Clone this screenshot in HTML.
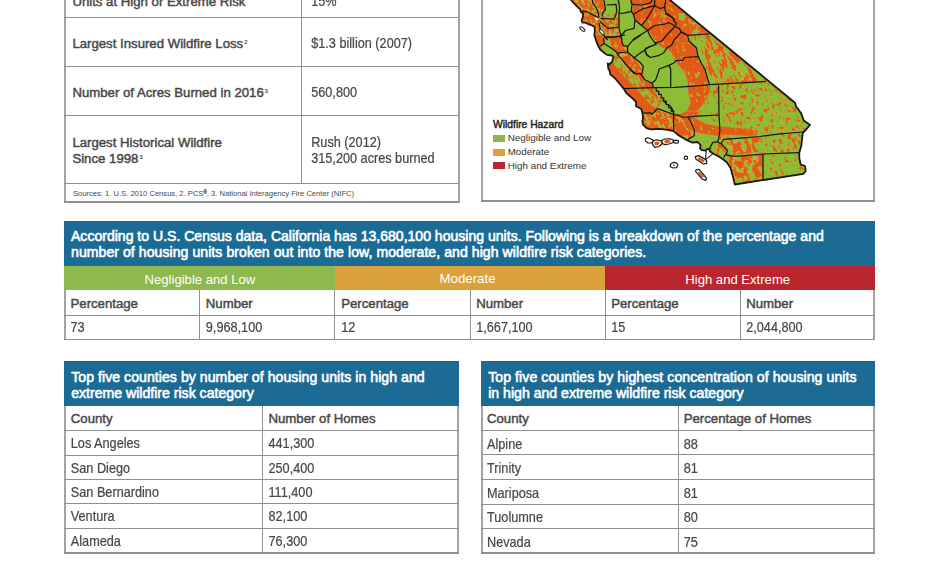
<!DOCTYPE html>
<html><head><meta charset="utf-8"><title>California Wildfire Risk</title>
<style>
html,body{margin:0;padding:0;background:#fff;}
body{width:940px;height:564px;position:relative;overflow:hidden;font-family:"Liberation Sans", sans-serif;}
.t{position:absolute;white-space:nowrap;line-height:1;}
.t sup{font-size:5.5px;vertical-align:0;position:relative;top:-0.72em;margin-left:1px;-webkit-text-stroke:0.2px currentColor;}
.r{position:absolute;}
svg{position:absolute;}
</style></head><body>
<div class="r" style="left:64px;top:0px;width:2px;height:203px;background:#a3a3a3"></div>
<div class="r" style="left:458px;top:0px;width:2px;height:203px;background:#a3a3a3"></div>
<div class="r" style="left:301px;top:0px;width:1px;height:183px;background:#8f8f8f"></div>
<div class="r" style="left:64px;top:17px;width:395px;height:1px;background:#8f8f8f"></div>
<div class="r" style="left:64px;top:66px;width:395px;height:1px;background:#8f8f8f"></div>
<div class="r" style="left:64px;top:115px;width:395px;height:1px;background:#8f8f8f"></div>
<div class="r" style="left:64px;top:183px;width:395px;height:1px;background:#8f8f8f"></div>
<div class="r" style="left:64px;top:201px;width:395px;height:2px;background:#8f8f8f"></div>
<div class="t" style="left:72.40px;top:-4.57px;font-size:13.2px;-webkit-text-stroke:0.45px #474747;color:#474747;">Units at High or Extreme Risk</div>
<div class="t" style="left:311.20px;top:-4.35px;font-size:12.7px;transform:scaleY(1.1);transform-origin:0 10.75px;-webkit-text-stroke:0.2px #474747;color:#474747;">15%</div>
<div class="t" style="left:72.40px;top:36.93px;font-size:13.2px;-webkit-text-stroke:0.45px #474747;color:#474747;">Largest Insured Wildfire Loss<sup>2</sup></div>
<div class="t" style="left:311.20px;top:37.65px;font-size:12.7px;transform:scaleY(1.1);transform-origin:0 10.75px;-webkit-text-stroke:0.2px #474747;color:#474747;">$1.3 billion (2007)</div>
<div class="t" style="left:72.40px;top:85.73px;font-size:13.2px;-webkit-text-stroke:0.45px #474747;color:#474747;">Number of Acres Burned in 2016<sup>3</sup></div>
<div class="t" style="left:311.20px;top:87.15px;font-size:12.7px;transform:scaleY(1.1);transform-origin:0 10.75px;-webkit-text-stroke:0.2px #474747;color:#474747;">560,800</div>
<div class="t" style="left:72.40px;top:136.13px;font-size:13.2px;-webkit-text-stroke:0.45px #474747;color:#474747;">Largest Historical Wildfire</div>
<div class="t" style="left:72.40px;top:151.73px;font-size:13.2px;-webkit-text-stroke:0.45px #474747;color:#474747;">Since 1998<sup>3</sup></div>
<div class="t" style="left:311.20px;top:137.15px;font-size:12.7px;transform:scaleY(1.1);transform-origin:0 10.75px;-webkit-text-stroke:0.2px #474747;color:#474747;">Rush (2012)</div>
<div class="t" style="left:311.20px;top:153.35px;font-size:12.7px;transform:scaleY(1.1);transform-origin:0 10.75px;-webkit-text-stroke:0.2px #474747;color:#474747;">315,200 acres burned</div>
<div class="t" style="left:73.00px;top:189.57px;font-size:7.6px;color:#474747;">Sources: 1. U.S. 2010 Census, 2. PCS<sup style="font-size:4.5px;top:-0.45em;margin-left:0">®</sup>, 3. National Interagency Fire Center (NIFC)</div>
<div class="r" style="left:481px;top:0px;width:2px;height:202px;background:#a3a3a3"></div>
<div class="r" style="left:873px;top:0px;width:2px;height:202px;background:#a3a3a3"></div>
<div class="r" style="left:481px;top:200px;width:394px;height:2px;background:#8f8f8f"></div>
<svg style="left:0;top:0" width="940" height="205" viewBox="0 0 940 205">
<defs><clipPath id="ca"><polygon points="570.5,-3.0 671.0,-3.0 670.0,0.0 795.0,102.7 796.0,106.3 801.2,113.4 803.8,120.5 810.0,124.9 805.6,130.2 802.8,133.0 802.1,138.4 801.4,145.5 799.3,152.6 799.3,158.2 800.7,164.6 805.0,166.0 805.7,171.0 803.5,173.8 734.8,184.5 734.0,181.0 732.5,175.0 730.5,168.0 727.0,162.5 723.3,159.5 718.3,156.2 713.3,153.8 709.8,151.3 709.0,148.8 707.0,149.1 705.5,150.6 702.0,150.2 699.9,148.4 700.6,145.2 697.7,142.0 692.5,142.6 687.4,140.5 682.3,137.4 678.0,134.9 673.7,131.1 667.8,129.8 659.3,128.9 650.8,129.4 646.5,128.1 643.1,124.7 642.3,121.3 643.1,117.0 642.3,112.8 641.3,109.0 636.0,106.3 636.0,101.9 633.3,99.2 626.3,93.0 623.6,88.6 619.2,83.3 614.7,78.0 610.3,74.4 609.4,70.0 608.4,69.0 607.7,63.4 609.0,64.5 612.0,62.0 613.4,57.0 612.0,55.5 607.0,54.9 604.2,52.7 599.9,49.2 597.1,43.5 595.7,39.3 594.3,35.0 594.8,31.2 594.8,27.0 592.0,25.5 588.4,24.1 585.6,22.7 582.4,22.7 581.7,20.6 583.0,16.3 583.0,13.5 581.0,12.0 580.0,9.2 577.0,6.4 573.5,2.8 571.0,0.0"/></clipPath>
<filter id="sp0m" x="-0.1" y="-0.1" width="1.2" height="1.2" color-interpolation-filters="sRGB"><feTurbulence type="fractalNoise" baseFrequency="0.35 0.18" numOctaves="4" seed="3"/><feColorMatrix type="matrix" values="0 0 0 0 0.84 0 0 0 0 0.66 0 0 0 0 0.2 1 0 0 0 0.1569"/><feComponentTransfer><feFuncA type="discrete" tableValues="0 1"/></feComponentTransfer><feComposite in2="SourceGraphic" operator="in"/><feGaussianBlur stdDeviation="0.35"/></filter>
<filter id="sp0h" x="-0.1" y="-0.1" width="1.2" height="1.2" color-interpolation-filters="sRGB"><feTurbulence type="fractalNoise" baseFrequency="0.35 0.18" numOctaves="4" seed="3"/><feColorMatrix type="matrix" values="0 0 0 0 0.886 0 0 0 0 0.353 0 0 0 0 0.09 1 0 0 0 0.0451"/><feComponentTransfer><feFuncA type="discrete" tableValues="0 1"/></feComponentTransfer><feComposite in2="SourceGraphic" operator="in"/><feGaussianBlur stdDeviation="0.35"/></filter>
<filter id="sp1m" x="-0.1" y="-0.1" width="1.2" height="1.2" color-interpolation-filters="sRGB"><feTurbulence type="fractalNoise" baseFrequency="0.35 0.18" numOctaves="4" seed="4"/><feColorMatrix type="matrix" values="0 0 0 0 0.84 0 0 0 0 0.66 0 0 0 0 0.2 1 0 0 0 -0.0236"/><feComponentTransfer><feFuncA type="discrete" tableValues="0 1"/></feComponentTransfer><feComposite in2="SourceGraphic" operator="in"/><feGaussianBlur stdDeviation="0.35"/></filter>
<filter id="sp1h" x="-0.1" y="-0.1" width="1.2" height="1.2" color-interpolation-filters="sRGB"><feTurbulence type="fractalNoise" baseFrequency="0.35 0.18" numOctaves="4" seed="4"/><feColorMatrix type="matrix" values="0 0 0 0 0.886 0 0 0 0 0.353 0 0 0 0 0.09 1 0 0 0 -0.0614"/><feComponentTransfer><feFuncA type="discrete" tableValues="0 1"/></feComponentTransfer><feComposite in2="SourceGraphic" operator="in"/><feGaussianBlur stdDeviation="0.35"/></filter>
<filter id="sp2m" x="-0.1" y="-0.1" width="1.2" height="1.2" color-interpolation-filters="sRGB"><feTurbulence type="fractalNoise" baseFrequency="0.35 0.18" numOctaves="4" seed="5"/><feColorMatrix type="matrix" values="0 0 0 0 0.84 0 0 0 0 0.66 0 0 0 0 0.2 1 0 0 0 0.0614"/><feComponentTransfer><feFuncA type="discrete" tableValues="0 1"/></feComponentTransfer><feComposite in2="SourceGraphic" operator="in"/><feGaussianBlur stdDeviation="0.35"/></filter>
<filter id="sp2h" x="-0.1" y="-0.1" width="1.2" height="1.2" color-interpolation-filters="sRGB"><feTurbulence type="fractalNoise" baseFrequency="0.35 0.18" numOctaves="4" seed="5"/><feColorMatrix type="matrix" values="0 0 0 0 0.886 0 0 0 0 0.353 0 0 0 0 0.09 1 0 0 0 0.0000"/><feComponentTransfer><feFuncA type="discrete" tableValues="0 1"/></feComponentTransfer><feComposite in2="SourceGraphic" operator="in"/><feGaussianBlur stdDeviation="0.35"/></filter>
<filter id="sp3m" x="-0.1" y="-0.1" width="1.2" height="1.2" color-interpolation-filters="sRGB"><feTurbulence type="fractalNoise" baseFrequency="0.35 0.18" numOctaves="4" seed="6"/><feColorMatrix type="matrix" values="0 0 0 0 0.84 0 0 0 0 0.66 0 0 0 0 0.2 1 0 0 0 0.2201"/><feComponentTransfer><feFuncA type="discrete" tableValues="0 1"/></feComponentTransfer><feComposite in2="SourceGraphic" operator="in"/><feGaussianBlur stdDeviation="0.35"/></filter>
<filter id="sp3h" x="-0.1" y="-0.1" width="1.2" height="1.2" color-interpolation-filters="sRGB"><feTurbulence type="fractalNoise" baseFrequency="0.35 0.18" numOctaves="4" seed="6"/><feColorMatrix type="matrix" values="0 0 0 0 0.886 0 0 0 0 0.353 0 0 0 0 0.09 1 0 0 0 0.1499"/><feComponentTransfer><feFuncA type="discrete" tableValues="0 1"/></feComponentTransfer><feComposite in2="SourceGraphic" operator="in"/><feGaussianBlur stdDeviation="0.35"/></filter>
<filter id="sp4m" x="-0.1" y="-0.1" width="1.2" height="1.2" color-interpolation-filters="sRGB"><feTurbulence type="fractalNoise" baseFrequency="0.35 0.18" numOctaves="4" seed="7"/><feColorMatrix type="matrix" values="0 0 0 0 0.84 0 0 0 0 0.66 0 0 0 0 0.2 1 0 0 0 0.2201"/><feComponentTransfer><feFuncA type="discrete" tableValues="0 1"/></feComponentTransfer><feComposite in2="SourceGraphic" operator="in"/><feGaussianBlur stdDeviation="0.35"/></filter>
<filter id="sp4h" x="-0.1" y="-0.1" width="1.2" height="1.2" color-interpolation-filters="sRGB"><feTurbulence type="fractalNoise" baseFrequency="0.35 0.18" numOctaves="4" seed="7"/><feColorMatrix type="matrix" values="0 0 0 0 0.886 0 0 0 0 0.353 0 0 0 0 0.09 1 0 0 0 0.1213"/><feComponentTransfer><feFuncA type="discrete" tableValues="0 1"/></feComponentTransfer><feComposite in2="SourceGraphic" operator="in"/><feGaussianBlur stdDeviation="0.35"/></filter>
<filter id="sp5m" x="-0.1" y="-0.1" width="1.2" height="1.2" color-interpolation-filters="sRGB"><feTurbulence type="fractalNoise" baseFrequency="0.35 0.18" numOctaves="4" seed="8"/><feColorMatrix type="matrix" values="0 0 0 0 0.84 0 0 0 0 0.66 0 0 0 0 0.2 1 0 0 0 0.2201"/><feComponentTransfer><feFuncA type="discrete" tableValues="0 1"/></feComponentTransfer><feComposite in2="SourceGraphic" operator="in"/><feGaussianBlur stdDeviation="0.35"/></filter>
<filter id="sp5h" x="-0.1" y="-0.1" width="1.2" height="1.2" color-interpolation-filters="sRGB"><feTurbulence type="fractalNoise" baseFrequency="0.35 0.18" numOctaves="4" seed="8"/><feColorMatrix type="matrix" values="0 0 0 0 0.886 0 0 0 0 0.353 0 0 0 0 0.09 1 0 0 0 0.1644"/><feComponentTransfer><feFuncA type="discrete" tableValues="0 1"/></feComponentTransfer><feComposite in2="SourceGraphic" operator="in"/><feGaussianBlur stdDeviation="0.35"/></filter>
<filter id="sp6m" x="-0.1" y="-0.1" width="1.2" height="1.2" color-interpolation-filters="sRGB"><feTurbulence type="fractalNoise" baseFrequency="0.3 0.07" numOctaves="4" seed="9"/><feColorMatrix type="matrix" values="0 0 0 0 0.84 0 0 0 0 0.66 0 0 0 0 0.2 1 0 0 0 0.0177"/><feComponentTransfer><feFuncA type="discrete" tableValues="0 1"/></feComponentTransfer><feComposite in2="SourceGraphic" operator="in"/><feGaussianBlur stdDeviation="0.35"/></filter>
<filter id="sp6h" x="-0.1" y="-0.1" width="1.2" height="1.2" color-interpolation-filters="sRGB"><feTurbulence type="fractalNoise" baseFrequency="0.3 0.07" numOctaves="4" seed="9"/><feColorMatrix type="matrix" values="0 0 0 0 0.886 0 0 0 0 0.353 0 0 0 0 0.09 1 0 0 0 -0.0296"/><feComponentTransfer><feFuncA type="discrete" tableValues="0 1"/></feComponentTransfer><feComposite in2="SourceGraphic" operator="in"/><feGaussianBlur stdDeviation="0.35"/></filter>
<filter id="sp7m" x="-0.1" y="-0.1" width="1.2" height="1.2" color-interpolation-filters="sRGB"><feTurbulence type="fractalNoise" baseFrequency="0.3 0.07" numOctaves="4" seed="10"/><feColorMatrix type="matrix" values="0 0 0 0 0.84 0 0 0 0 0.66 0 0 0 0 0.2 1 0 0 0 -0.1423"/><feComponentTransfer><feFuncA type="discrete" tableValues="0 1"/></feComponentTransfer><feComposite in2="SourceGraphic" operator="in"/><feGaussianBlur stdDeviation="0.35"/></filter>
<filter id="sp7h" x="-0.1" y="-0.1" width="1.2" height="1.2" color-interpolation-filters="sRGB"><feTurbulence type="fractalNoise" baseFrequency="0.3 0.07" numOctaves="4" seed="10"/><feColorMatrix type="matrix" values="0 0 0 0 0.886 0 0 0 0 0.353 0 0 0 0 0.09 1 0 0 0 -0.1644"/><feComponentTransfer><feFuncA type="discrete" tableValues="0 1"/></feComponentTransfer><feComposite in2="SourceGraphic" operator="in"/><feGaussianBlur stdDeviation="0.35"/></filter>
<filter id="sp8m" x="-0.1" y="-0.1" width="1.2" height="1.2" color-interpolation-filters="sRGB"><feTurbulence type="fractalNoise" baseFrequency="0.35 0.18" numOctaves="4" seed="11"/><feColorMatrix type="matrix" values="0 0 0 0 0.84 0 0 0 0 0.66 0 0 0 0 0.2 1 0 0 0 -0.0834"/><feComponentTransfer><feFuncA type="discrete" tableValues="0 1"/></feComponentTransfer><feComposite in2="SourceGraphic" operator="in"/><feGaussianBlur stdDeviation="0.35"/></filter>
<filter id="sp8h" x="-0.1" y="-0.1" width="1.2" height="1.2" color-interpolation-filters="sRGB"><feTurbulence type="fractalNoise" baseFrequency="0.35 0.18" numOctaves="4" seed="11"/><feColorMatrix type="matrix" values="0 0 0 0 0.886 0 0 0 0 0.353 0 0 0 0 0.09 1 0 0 0 -0.1116"/><feComponentTransfer><feFuncA type="discrete" tableValues="0 1"/></feComponentTransfer><feComposite in2="SourceGraphic" operator="in"/><feGaussianBlur stdDeviation="0.35"/></filter>
<filter id="sp9m" x="-0.1" y="-0.1" width="1.2" height="1.2" color-interpolation-filters="sRGB"><feTurbulence type="fractalNoise" baseFrequency="0.35 0.18" numOctaves="4" seed="12"/><feColorMatrix type="matrix" values="0 0 0 0 0.84 0 0 0 0 0.66 0 0 0 0 0.2 1 0 0 0 -0.1613"/><feComponentTransfer><feFuncA type="discrete" tableValues="0 1"/></feComponentTransfer><feComposite in2="SourceGraphic" operator="in"/><feGaussianBlur stdDeviation="0.35"/></filter>
<filter id="sp9h" x="-0.1" y="-0.1" width="1.2" height="1.2" color-interpolation-filters="sRGB"><feTurbulence type="fractalNoise" baseFrequency="0.35 0.18" numOctaves="4" seed="12"/><feColorMatrix type="matrix" values="0 0 0 0 0.886 0 0 0 0 0.353 0 0 0 0 0.09 1 0 0 0 -0.1819"/><feComponentTransfer><feFuncA type="discrete" tableValues="0 1"/></feComponentTransfer><feComposite in2="SourceGraphic" operator="in"/><feGaussianBlur stdDeviation="0.35"/></filter>
<filter id="sp10m" x="-0.1" y="-0.1" width="1.2" height="1.2" color-interpolation-filters="sRGB"><feTurbulence type="fractalNoise" baseFrequency="0.35 0.18" numOctaves="4" seed="13"/><feColorMatrix type="matrix" values="0 0 0 0 0.84 0 0 0 0 0.66 0 0 0 0 0.2 1 0 0 0 0.2201"/><feComponentTransfer><feFuncA type="discrete" tableValues="0 1"/></feComponentTransfer><feComposite in2="SourceGraphic" operator="in"/><feGaussianBlur stdDeviation="0.35"/></filter>
<filter id="sp10h" x="-0.1" y="-0.1" width="1.2" height="1.2" color-interpolation-filters="sRGB"><feTurbulence type="fractalNoise" baseFrequency="0.35 0.18" numOctaves="4" seed="13"/><feColorMatrix type="matrix" values="0 0 0 0 0.886 0 0 0 0 0.353 0 0 0 0 0.09 1 0 0 0 0.1924"/><feComponentTransfer><feFuncA type="discrete" tableValues="0 1"/></feComponentTransfer><feComposite in2="SourceGraphic" operator="in"/><feGaussianBlur stdDeviation="0.35"/></filter>
<filter id="sp11m" x="-0.1" y="-0.1" width="1.2" height="1.2" color-interpolation-filters="sRGB"><feTurbulence type="fractalNoise" baseFrequency="0.35 0.18" numOctaves="4" seed="14"/><feColorMatrix type="matrix" values="0 0 0 0 0.84 0 0 0 0 0.66 0 0 0 0 0.2 1 0 0 0 0.1164"/><feComponentTransfer><feFuncA type="discrete" tableValues="0 1"/></feComponentTransfer><feComposite in2="SourceGraphic" operator="in"/><feGaussianBlur stdDeviation="0.35"/></filter>
<filter id="sp11h" x="-0.1" y="-0.1" width="1.2" height="1.2" color-interpolation-filters="sRGB"><feTurbulence type="fractalNoise" baseFrequency="0.35 0.18" numOctaves="4" seed="14"/><feColorMatrix type="matrix" values="0 0 0 0 0.886 0 0 0 0 0.353 0 0 0 0 0.09 1 0 0 0 0.0296"/><feComponentTransfer><feFuncA type="discrete" tableValues="0 1"/></feComponentTransfer><feComposite in2="SourceGraphic" operator="in"/><feGaussianBlur stdDeviation="0.35"/></filter>
<filter id="sp12m" x="-0.1" y="-0.1" width="1.2" height="1.2" color-interpolation-filters="sRGB"><feTurbulence type="fractalNoise" baseFrequency="0.35 0.18" numOctaves="4" seed="15"/><feColorMatrix type="matrix" values="0 0 0 0 0.84 0 0 0 0 0.66 0 0 0 0 0.2 1 0 0 0 0.2201"/><feComponentTransfer><feFuncA type="discrete" tableValues="0 1"/></feComponentTransfer><feComposite in2="SourceGraphic" operator="in"/><feGaussianBlur stdDeviation="0.35"/></filter>
<filter id="sp12h" x="-0.1" y="-0.1" width="1.2" height="1.2" color-interpolation-filters="sRGB"><feTurbulence type="fractalNoise" baseFrequency="0.35 0.18" numOctaves="4" seed="15"/><feColorMatrix type="matrix" values="0 0 0 0 0.886 0 0 0 0 0.353 0 0 0 0 0.09 1 0 0 0 0.0789"/><feComponentTransfer><feFuncA type="discrete" tableValues="0 1"/></feComponentTransfer><feComposite in2="SourceGraphic" operator="in"/><feGaussianBlur stdDeviation="0.35"/></filter>
<filter id="sp13m" x="-0.1" y="-0.1" width="1.2" height="1.2" color-interpolation-filters="sRGB"><feTurbulence type="fractalNoise" baseFrequency="0.35 0.18" numOctaves="4" seed="16"/><feColorMatrix type="matrix" values="0 0 0 0 0.84 0 0 0 0 0.66 0 0 0 0 0.2 1 0 0 0 -0.1727"/><feComponentTransfer><feFuncA type="discrete" tableValues="0 1"/></feComponentTransfer><feComposite in2="SourceGraphic" operator="in"/><feGaussianBlur stdDeviation="0.35"/></filter>
<filter id="sp13h" x="-0.1" y="-0.1" width="1.2" height="1.2" color-interpolation-filters="sRGB"><feTurbulence type="fractalNoise" baseFrequency="0.35 0.18" numOctaves="4" seed="16"/><feColorMatrix type="matrix" values="0 0 0 0 0.886 0 0 0 0 0.353 0 0 0 0 0.09 1 0 0 0 -0.1924"/><feComponentTransfer><feFuncA type="discrete" tableValues="0 1"/></feComponentTransfer><feComposite in2="SourceGraphic" operator="in"/><feGaussianBlur stdDeviation="0.35"/></filter>
<filter id="sp14m" x="-0.1" y="-0.1" width="1.2" height="1.2" color-interpolation-filters="sRGB"><feTurbulence type="fractalNoise" baseFrequency="0.2 0.12" numOctaves="4" seed="17"/><feColorMatrix type="matrix" values="0 0 0 0 0.84 0 0 0 0 0.66 0 0 0 0 0.2 1 0 0 0 -0.0029"/><feComponentTransfer><feFuncA type="discrete" tableValues="0 1"/></feComponentTransfer><feComposite in2="SourceGraphic" operator="in"/><feGaussianBlur stdDeviation="0.35"/></filter>
<filter id="sp14h" x="-0.1" y="-0.1" width="1.2" height="1.2" color-interpolation-filters="sRGB"><feTurbulence type="fractalNoise" baseFrequency="0.2 0.12" numOctaves="4" seed="17"/><feColorMatrix type="matrix" values="0 0 0 0 0.886 0 0 0 0 0.353 0 0 0 0 0.09 1 0 0 0 -0.0451"/><feComponentTransfer><feFuncA type="discrete" tableValues="0 1"/></feComponentTransfer><feComposite in2="SourceGraphic" operator="in"/><feGaussianBlur stdDeviation="0.35"/></filter>
<filter id="sp15m" x="-0.1" y="-0.1" width="1.2" height="1.2" color-interpolation-filters="sRGB"><feTurbulence type="fractalNoise" baseFrequency="0.2 0.12" numOctaves="4" seed="18"/><feColorMatrix type="matrix" values="0 0 0 0 0.84 0 0 0 0 0.66 0 0 0 0 0.2 1 0 0 0 0.0388"/><feComponentTransfer><feFuncA type="discrete" tableValues="0 1"/></feComponentTransfer><feComposite in2="SourceGraphic" operator="in"/><feGaussianBlur stdDeviation="0.35"/></filter>
<filter id="sp15h" x="-0.1" y="-0.1" width="1.2" height="1.2" color-interpolation-filters="sRGB"><feTurbulence type="fractalNoise" baseFrequency="0.2 0.12" numOctaves="4" seed="18"/><feColorMatrix type="matrix" values="0 0 0 0 0.886 0 0 0 0 0.353 0 0 0 0 0.09 1 0 0 0 -0.0147"/><feComponentTransfer><feFuncA type="discrete" tableValues="0 1"/></feComponentTransfer><feComposite in2="SourceGraphic" operator="in"/><feGaussianBlur stdDeviation="0.35"/></filter>
<filter id="sp16m" x="-0.1" y="-0.1" width="1.2" height="1.2" color-interpolation-filters="sRGB"><feTurbulence type="fractalNoise" baseFrequency="0.35 0.18" numOctaves="4" seed="19"/><feColorMatrix type="matrix" values="0 0 0 0 0.84 0 0 0 0 0.66 0 0 0 0 0.2 1 0 0 0 -0.0682"/><feComponentTransfer><feFuncA type="discrete" tableValues="0 1"/></feComponentTransfer><feComposite in2="SourceGraphic" operator="in"/><feGaussianBlur stdDeviation="0.35"/></filter>
<filter id="sp16h" x="-0.1" y="-0.1" width="1.2" height="1.2" color-interpolation-filters="sRGB"><feTurbulence type="fractalNoise" baseFrequency="0.35 0.18" numOctaves="4" seed="19"/><feColorMatrix type="matrix" values="0 0 0 0 0.886 0 0 0 0 0.353 0 0 0 0 0.09 1 0 0 0 -0.0985"/><feComponentTransfer><feFuncA type="discrete" tableValues="0 1"/></feComponentTransfer><feComposite in2="SourceGraphic" operator="in"/><feGaussianBlur stdDeviation="0.35"/></filter>
<filter id="sp17m" x="-0.1" y="-0.1" width="1.2" height="1.2" color-interpolation-filters="sRGB"><feTurbulence type="fractalNoise" baseFrequency="0.2 0.12" numOctaves="4" seed="20"/><feColorMatrix type="matrix" values="0 0 0 0 0.84 0 0 0 0 0.66 0 0 0 0 0.2 1 0 0 0 0.0710"/><feComponentTransfer><feFuncA type="discrete" tableValues="0 1"/></feComponentTransfer><feComposite in2="SourceGraphic" operator="in"/><feGaussianBlur stdDeviation="0.35"/></filter>
<filter id="sp17h" x="-0.1" y="-0.1" width="1.2" height="1.2" color-interpolation-filters="sRGB"><feTurbulence type="fractalNoise" baseFrequency="0.2 0.12" numOctaves="4" seed="20"/><feColorMatrix type="matrix" values="0 0 0 0 0.886 0 0 0 0 0.353 0 0 0 0 0.09 1 0 0 0 0.0059"/><feComponentTransfer><feFuncA type="discrete" tableValues="0 1"/></feComponentTransfer><feComposite in2="SourceGraphic" operator="in"/><feGaussianBlur stdDeviation="0.35"/></filter>
<filter id="sp18m" x="-0.1" y="-0.1" width="1.2" height="1.2" color-interpolation-filters="sRGB"><feTurbulence type="fractalNoise" baseFrequency="0.35 0.18" numOctaves="4" seed="21"/><feColorMatrix type="matrix" values="0 0 0 0 0.84 0 0 0 0 0.66 0 0 0 0 0.2 1 0 0 0 -0.1264"/><feComponentTransfer><feFuncA type="discrete" tableValues="0 1"/></feComponentTransfer><feComposite in2="SourceGraphic" operator="in"/><feGaussianBlur stdDeviation="0.35"/></filter>
<filter id="sp18h" x="-0.1" y="-0.1" width="1.2" height="1.2" color-interpolation-filters="sRGB"><feTurbulence type="fractalNoise" baseFrequency="0.35 0.18" numOctaves="4" seed="21"/><feColorMatrix type="matrix" values="0 0 0 0 0.886 0 0 0 0 0.353 0 0 0 0 0.09 1 0 0 0 -0.1499"/><feComponentTransfer><feFuncA type="discrete" tableValues="0 1"/></feComponentTransfer><feComposite in2="SourceGraphic" operator="in"/><feGaussianBlur stdDeviation="0.35"/></filter>
<filter id="sp19m" x="-0.1" y="-0.1" width="1.2" height="1.2" color-interpolation-filters="sRGB"><feTurbulence type="fractalNoise" baseFrequency="0.35 0.18" numOctaves="4" seed="22"/><feColorMatrix type="matrix" values="0 0 0 0 0.84 0 0 0 0 0.66 0 0 0 0 0.2 1 0 0 0 0.0177"/><feComponentTransfer><feFuncA type="discrete" tableValues="0 1"/></feComponentTransfer><feComposite in2="SourceGraphic" operator="in"/><feGaussianBlur stdDeviation="0.35"/></filter>
<filter id="sp19h" x="-0.1" y="-0.1" width="1.2" height="1.2" color-interpolation-filters="sRGB"><feTurbulence type="fractalNoise" baseFrequency="0.35 0.18" numOctaves="4" seed="22"/><feColorMatrix type="matrix" values="0 0 0 0 0.886 0 0 0 0 0.353 0 0 0 0 0.09 1 0 0 0 -0.0296"/><feComponentTransfer><feFuncA type="discrete" tableValues="0 1"/></feComponentTransfer><feComposite in2="SourceGraphic" operator="in"/><feGaussianBlur stdDeviation="0.35"/></filter>
<filter id="sp20m" x="-0.1" y="-0.1" width="1.2" height="1.2" color-interpolation-filters="sRGB"><feTurbulence type="fractalNoise" baseFrequency="0.35 0.18" numOctaves="4" seed="23"/><feColorMatrix type="matrix" values="0 0 0 0 0.84 0 0 0 0 0.66 0 0 0 0 0.2 1 0 0 0 0.0388"/><feComponentTransfer><feFuncA type="discrete" tableValues="0 1"/></feComponentTransfer><feComposite in2="SourceGraphic" operator="in"/><feGaussianBlur stdDeviation="0.35"/></filter>
<filter id="sp20h" x="-0.1" y="-0.1" width="1.2" height="1.2" color-interpolation-filters="sRGB"><feTurbulence type="fractalNoise" baseFrequency="0.35 0.18" numOctaves="4" seed="23"/><feColorMatrix type="matrix" values="0 0 0 0 0.886 0 0 0 0 0.353 0 0 0 0 0.09 1 0 0 0 -0.0147"/><feComponentTransfer><feFuncA type="discrete" tableValues="0 1"/></feComponentTransfer><feComposite in2="SourceGraphic" operator="in"/><feGaussianBlur stdDeviation="0.35"/></filter>
</defs>
<polygon points="570.5,-3.0 671.0,-3.0 670.0,0.0 795.0,102.7 796.0,106.3 801.2,113.4 803.8,120.5 810.0,124.9 805.6,130.2 802.8,133.0 802.1,138.4 801.4,145.5 799.3,152.6 799.3,158.2 800.7,164.6 805.0,166.0 805.7,171.0 803.5,173.8 734.8,184.5 734.0,181.0 732.5,175.0 730.5,168.0 727.0,162.5 723.3,159.5 718.3,156.2 713.3,153.8 709.8,151.3 709.0,148.8 707.0,149.1 705.5,150.6 702.0,150.2 699.9,148.4 700.6,145.2 697.7,142.0 692.5,142.6 687.4,140.5 682.3,137.4 678.0,134.9 673.7,131.1 667.8,129.8 659.3,128.9 650.8,129.4 646.5,128.1 643.1,124.7 642.3,121.3 643.1,117.0 642.3,112.8 641.3,109.0 636.0,106.3 636.0,101.9 633.3,99.2 626.3,93.0 623.6,88.6 619.2,83.3 614.7,78.0 610.3,74.4 609.4,70.0 608.4,69.0 607.7,63.4 609.0,64.5 612.0,62.0 613.4,57.0 612.0,55.5 607.0,54.9 604.2,52.7 599.9,49.2 597.1,43.5 595.7,39.3 594.3,35.0 594.8,31.2 594.8,27.0 592.0,25.5 588.4,24.1 585.6,22.7 582.4,22.7 581.7,20.6 583.0,16.3 583.0,13.5 581.0,12.0 580.0,9.2 577.0,6.4 573.5,2.8 571.0,0.0" fill="none" stroke="#fff" stroke-width="3.5" stroke-linejoin="round"/>
<g clip-path="url(#ca)">
<rect x="560" y="-5" width="260" height="200" fill="#8cbd35"/>
<polygon points="565.0,-3.0 603.0,-3.0 605.0,10.0 602.0,16.0 598.3,17.7 596.0,22.0 594.8,27.0 594.8,31.2 594.0,36.0 585.0,30.0 575.0,15.0" fill="#8cbd35"/>
<g transform="rotate(-25.0 690 95)"><polygon points="618.1,-46.6 652.6,-30.6 648.9,-18.0 643.6,-13.8 639.6,-13.8 635.7,-10.9 632.5,-6.9 630.7,-3.1 627.9,1.0 622.3,-8.3 619.6,-26.1" filter="url(#sp0m)"/><polygon points="618.1,-46.6 652.6,-30.6 648.9,-18.0 643.6,-13.8 639.6,-13.8 635.7,-10.9 632.5,-6.9 630.7,-3.1 627.9,1.0 622.3,-8.3 619.6,-26.1" filter="url(#sp0h)"/></g>
<polygon points="587.0,2.0 593.0,1.0 598.0,8.0 598.5,14.0 594.5,15.5 589.0,10.0" fill="#8cbd35"/>
<g transform="rotate(-25.0 690 95)"><polygon points="636.0,-32.8 641.8,-31.2 643.4,-22.7 641.3,-17.1 637.0,-17.4 634.4,-24.7" filter="url(#sp1m)"/><polygon points="636.0,-32.8 641.8,-31.2 643.4,-22.7 641.3,-17.1 637.0,-17.4 634.4,-24.7" filter="url(#sp1h)"/></g>
<polygon points="598.3,17.7 602.0,16.0 619.0,13.0 619.0,36.0 604.2,35.0 596.0,35.0 594.8,31.2 594.8,27.0 596.0,22.0" fill="#8cbd35"/>
<g transform="rotate(-25.0 690 95)"><polygon points="639.6,-13.8 643.6,-13.8 660.3,-9.3 650.6,11.5 637.6,4.4 630.2,0.9 630.7,-3.1 632.5,-6.9 635.7,-10.9" filter="url(#sp2m)"/><polygon points="639.6,-13.8 643.6,-13.8 660.3,-9.3 650.6,11.5 637.6,4.4 630.2,0.9 630.7,-3.1 632.5,-6.9 635.7,-10.9" filter="url(#sp2h)"/></g>
<polygon points="594.0,35.0 604.2,35.0 604.9,37.8 604.2,43.5 600.6,46.3 604.2,52.7 599.9,49.2 597.1,43.5" fill="#e25a17"/>
<polygon points="609.0,37.0 618.0,36.4 621.2,36.4 622.0,42.0 623.3,45.6 627.6,46.3 627.6,52.0 620.0,52.7 617.0,54.0 612.0,48.0" fill="#8cbd35"/>
<g transform="rotate(-25.0 690 95)"><polygon points="641.1,8.2 649.5,11.5 652.4,12.8 650.8,18.2 650.4,22.0 654.0,24.5 651.6,29.7 644.4,27.1 641.2,27.0 639.2,19.4" filter="url(#sp3m)"/><polygon points="641.1,8.2 649.5,11.5 652.4,12.8 650.8,18.2 650.4,22.0 654.0,24.5 651.6,29.7 644.4,27.1 641.2,27.0 639.2,19.4" filter="url(#sp3h)"/></g>
<polygon points="600.0,52.0 607.0,54.9 613.0,58.0 614.0,64.0 620.0,72.0 628.0,80.0 636.0,88.0 643.0,96.0 650.0,104.0 657.0,109.0 650.0,112.5 642.0,114.0 636.0,110.0 625.0,95.0 612.0,80.0 604.0,62.0" fill="#e25a17"/>
<polygon points="613.0,56.0 616.0,55.0 624.0,62.0 631.0,69.0 638.0,78.0 646.0,88.0 655.0,97.0 660.0,104.0 657.0,109.0 650.0,104.0 643.0,96.0 636.0,88.0 628.0,80.0 620.0,72.0 614.0,64.0" fill="#8cbd35"/>
<g transform="rotate(-25.0 690 95)"><polygon points="636.7,27.1 639.8,27.5 644.1,37.2 647.5,46.5 650.1,57.6 653.1,70.1 657.4,82.0 659.0,90.5 654.2,93.7 649.9,86.3 647.0,76.0 644.0,65.8 640.1,55.2 636.3,44.6 634.2,34.8" filter="url(#sp1m)"/><polygon points="636.7,27.1 639.8,27.5 644.1,37.2 647.5,46.5 650.1,57.6 653.1,70.1 657.4,82.0 659.0,90.5 654.2,93.7 649.9,86.3 647.0,76.0 644.0,65.8 640.1,55.2 636.3,44.6 634.2,34.8" filter="url(#sp1h)"/></g>
<polygon points="617.0,54.0 620.0,52.7 627.6,52.0 634.0,58.0 640.0,66.0 643.0,72.0 645.0,80.0 652.0,83.3 654.0,92.0 658.0,96.0 663.0,99.0 660.0,104.0 655.0,97.0 646.0,88.0 638.0,78.0 631.0,69.0 624.0,62.0" fill="#8cbd35"/>
<g transform="rotate(-25.0 690 95)"><polygon points="641.2,27.0 644.4,27.1 651.6,29.7 654.9,37.8 656.9,47.6 657.1,54.3 655.6,62.4 660.5,68.3 658.6,77.1 660.6,82.4 663.8,87.2 659.0,90.5 657.4,82.0 653.1,70.1 650.1,57.6 647.5,46.5 644.1,37.2" filter="url(#sp4m)"/><polygon points="641.2,27.0 644.4,27.1 651.6,29.7 654.9,37.8 656.9,47.6 657.1,54.3 655.6,62.4 660.5,68.3 658.6,77.1 660.6,82.4 663.8,87.2 659.0,90.5 657.4,82.0 653.1,70.1 650.1,57.6 647.5,46.5 644.1,37.2" filter="url(#sp4h)"/></g>
<polygon points="629.5,-3.0 671.0,-3.0 670.0,0.0 712.0,35.0 687.5,35.3 689.3,41.5 696.4,47.7 698.1,56.6 701.7,63.7 705.2,69.9 707.9,80.0 709.2,83.3 710.6,90.0 703.9,103.2 697.3,111.2 686.6,111.2 690.6,103.2 688.0,90.0 687.5,80.0 684.0,71.6 678.7,65.4 674.2,59.2 671.6,53.0 669.8,50.4 662.7,47.7 656.5,43.3 650.3,32.7 647.0,29.8 642.0,25.5 634.9,19.9 632.0,12.8 630.6,0.0" fill="#8cbd35"/>
<g transform="rotate(-25.0 690 95)"><polygon points="676.6,-19.4 714.2,-1.8 712.0,0.4 735.3,49.9 713.0,39.8 712.0,46.2 715.8,54.8 713.6,63.6 713.8,71.6 714.4,78.7 712.6,89.0 712.3,92.5 710.8,99.2 699.1,108.3 689.8,112.8 680.1,108.2 687.1,102.7 690.3,89.6 694.1,80.3 694.5,71.3 692.3,63.4 690.8,55.9 691.1,49.2 690.5,46.0 685.2,40.6 681.5,34.0 680.3,21.8 678.6,17.7 675.9,11.7 671.8,3.7 672.2,-4.0 676.3,-16.2" filter="url(#sp5m)"/><polygon points="676.6,-19.4 714.2,-1.8 712.0,0.4 735.3,49.9 713.0,39.8 712.0,46.2 715.8,54.8 713.6,63.6 713.8,71.6 714.4,78.7 712.6,89.0 712.3,92.5 710.8,99.2 699.1,108.3 689.8,112.8 680.1,108.2 687.1,102.7 690.3,89.6 694.1,80.3 694.5,71.3 692.3,63.4 690.8,55.9 691.1,49.2 690.5,46.0 685.2,40.6 681.5,34.0 680.3,21.8 678.6,17.7 675.9,11.7 671.8,3.7 672.2,-4.0 676.3,-16.2" filter="url(#sp5h)"/></g>
<polygon points="712.0,35.0 768.0,82.0 766.0,81.5 709.6,84.7 707.9,80.0 705.2,69.9 701.7,63.7 698.1,56.6 696.4,47.7 689.3,41.5 687.5,35.3" fill="#8cbd35"/>
<g transform="rotate(-25.0 690 95)"><polygon points="735.3,49.9 766.2,116.2 764.6,114.9 712.1,93.9 712.6,89.0 714.4,78.7 713.8,71.6 713.6,63.6 715.8,54.8 712.0,46.2 713.0,39.8" filter="url(#sp6m)"/><polygon points="735.3,49.9 766.2,116.2 764.6,114.9 712.1,93.9 712.6,89.0 714.4,78.7 713.8,71.6 713.6,63.6 715.8,54.8 712.0,46.2 713.0,39.8" filter="url(#sp6h)"/></g>
<polygon points="688.0,36.0 693.0,36.5 699.0,48.0 704.0,60.0 709.0,72.0 713.0,84.5 709.6,84.7 707.9,80.0 705.2,69.9 701.7,63.7 698.1,56.6 696.4,47.7 689.3,41.5" fill="#8cbd35"/>
<g transform="rotate(-25.0 690 95)"><polygon points="713.1,40.7 717.4,43.2 718.0,56.2 717.5,69.2 716.9,82.2 715.3,95.2 712.1,93.9 712.6,89.0 714.4,78.7 713.8,71.6 713.6,63.6 715.8,54.8 712.0,46.2" filter="url(#sp7m)"/><polygon points="713.1,40.7 717.4,43.2 718.0,56.2 717.5,69.2 716.9,82.2 715.3,95.2 712.1,93.9 712.6,89.0 714.4,78.7 713.8,71.6 713.6,63.6 715.8,54.8 712.0,46.2" filter="url(#sp7h)"/></g>
<polygon points="709.6,84.7 766.0,81.5 772.0,85.0 795.0,102.7 796.0,106.3 801.2,113.4 803.8,120.5 810.0,124.9 805.6,130.2 803.0,132.0 780.0,133.8 758.0,133.0 745.0,128.0 725.0,124.0 700.0,119.0 697.3,111.2 703.9,103.2 710.6,90.0" fill="#8cbd35"/>
<g transform="rotate(-25.0 690 95)"><polygon points="712.1,93.9 764.6,114.9 768.5,120.6 781.9,146.4 781.3,150.0 783.0,158.7 782.4,166.2 786.1,172.8 779.9,175.8 776.8,176.3 755.2,168.2 735.6,158.2 725.9,148.2 709.5,136.1 688.9,121.0 689.8,112.8 699.1,108.3 710.8,99.2" filter="url(#sp8m)"/><polygon points="712.1,93.9 764.6,114.9 768.5,120.6 781.9,146.4 781.3,150.0 783.0,158.7 782.4,166.2 786.1,172.8 779.9,175.8 776.8,176.3 755.2,168.2 735.6,158.2 725.9,148.2 709.5,136.1 688.9,121.0 689.8,112.8 699.1,108.3 710.8,99.2" filter="url(#sp8h)"/></g>
<polygon points="703.9,103.2 708.0,98.0 719.0,96.0 719.0,126.4 706.0,123.8 700.0,121.0 694.0,117.0 699.0,114.0" fill="#8cbd35"/>
<g transform="rotate(-25.0 690 95)"><polygon points="699.1,108.3 705.0,105.3 715.9,108.2 703.0,135.7 692.3,127.9 688.1,122.8 684.3,116.6 690.1,116.0" filter="url(#sp9m)"/><polygon points="699.1,108.3 705.0,105.3 715.9,108.2 703.0,135.7 692.3,127.9 688.1,122.8 684.3,116.6 690.1,116.0" filter="url(#sp9h)"/></g>
<polygon points="675.0,115.0 680.0,113.9 686.6,111.2 697.3,111.2 699.0,114.0 694.0,117.0 700.0,121.0 706.0,123.8 719.0,126.4 731.0,127.2 748.0,129.0 758.0,131.0 756.0,135.5 748.0,135.7 731.0,135.0 714.0,135.7 697.0,132.3 690.0,131.0 682.0,125.0 676.0,119.0" fill="#8cbd35"/>
<g transform="rotate(-25.0 690 95)"><polygon points="668.0,106.8 672.9,107.9 680.1,108.2 689.8,112.8 690.1,116.0 684.3,116.6 688.1,122.8 692.3,127.9 703.0,135.7 713.6,141.5 728.2,150.3 736.4,156.4 732.7,159.6 725.4,156.4 710.3,148.6 694.6,142.0 680.6,131.8 674.8,127.6 670.1,118.8 667.2,110.8" filter="url(#sp10m)"/><polygon points="668.0,106.8 672.9,107.9 680.1,108.2 689.8,112.8 690.1,116.0 684.3,116.6 688.1,122.8 692.3,127.9 703.0,135.7 713.6,141.5 728.2,150.3 736.4,156.4 732.7,159.6 725.4,156.4 710.3,148.6 694.6,142.0 680.6,131.8 674.8,127.6 670.1,118.8 667.2,110.8" filter="url(#sp10h)"/></g>
<polygon points="642.0,112.8 651.0,113.0 657.6,108.5 662.0,110.0 673.7,114.5 673.7,131.1 667.8,129.8 659.3,128.9 650.8,129.4 646.5,128.1 643.1,124.7 642.3,121.3 643.1,117.0" fill="#8cbd35"/>
<g transform="rotate(-25.0 690 95)"><polygon points="639.0,90.8 647.0,94.8 654.9,93.5 658.3,96.8 667.0,105.8 660.0,120.8 655.2,117.2 647.8,112.7 639.9,109.6 636.6,106.6 634.9,102.1 635.7,98.7 638.2,95.1" filter="url(#sp11m)"/><polygon points="639.0,90.8 647.0,94.8 654.9,93.5 658.3,96.8 667.0,105.8 660.0,120.8 655.2,117.2 647.8,112.7 639.9,109.6 636.6,106.6 634.9,102.1 635.7,98.7 638.2,95.1" filter="url(#sp11h)"/></g>
<polygon points="673.7,114.5 688.2,117.0 690.8,122.1 694.2,129.8 694.2,135.7 688.2,139.1 687.4,140.9 682.3,137.4 678.0,134.9 673.7,131.1" fill="#8cbd35"/>
<g transform="rotate(-25.0 690 95)"><polygon points="667.0,105.8 679.1,114.2 679.3,119.9 679.1,128.3 676.6,133.7 669.7,134.2 668.2,135.5 665.1,130.2 662.3,126.1 660.0,120.8" filter="url(#sp12m)"/><polygon points="667.0,105.8 679.1,114.2 679.3,119.9 679.1,128.3 676.6,133.7 669.7,134.2 668.2,135.5 665.1,130.2 662.3,126.1 660.0,120.8" filter="url(#sp12h)"/></g>
<polygon points="694.0,134.0 705.0,134.5 718.0,136.0 722.0,141.0 724.0,150.0 718.0,156.0 709.8,151.3 705.0,150.6 700.0,146.0 697.0,141.0 694.2,135.7" fill="#8cbd35"/>
<g transform="rotate(-25.0 690 95)"><polygon points="677.1,132.0 686.9,137.1 698.0,144.0 699.6,150.2 697.6,159.2 689.6,162.1 684.2,154.4 680.1,151.7 677.5,145.4 676.9,139.6 676.6,133.7" filter="url(#sp13m)"/><polygon points="677.1,132.0 686.9,137.1 698.0,144.0 699.6,150.2 697.6,159.2 689.6,162.1 684.2,154.4 680.1,151.7 677.5,145.4 676.9,139.6 676.6,133.7" filter="url(#sp13h)"/></g>
<polygon points="709.3,149.9 710.6,146.1 713.0,142.4 717.4,141.8 721.1,143.7 727.3,150.5 726.0,154.2 723.6,157.3 716.8,156.1 712.4,153.6" fill="#8cbd35"/>
<g transform="rotate(-25.0 690 95)"><polygon points="684.3,152.9 687.1,150.0 690.8,147.7 695.1,149.0 697.6,152.3 700.3,161.1 697.6,163.9 694.1,165.7 688.5,161.7 685.5,157.6" filter="url(#sp14m)"/><polygon points="684.3,152.9 687.1,150.0 690.8,147.7 695.1,149.0 697.6,152.3 700.3,161.1 697.6,163.9 694.1,165.7 688.5,161.7 685.5,157.6" filter="url(#sp14h)"/></g>
<polygon points="718.0,136.0 735.0,137.5 752.0,138.0 760.0,137.0 760.0,152.0 724.0,156.0 722.0,141.0" fill="#8cbd35"/>
<g transform="rotate(-25.0 690 95)"><polygon points="698.0,144.0 712.8,152.5 728.0,160.2 735.7,162.6 729.4,176.2 695.0,164.7 699.6,150.2" filter="url(#sp15m)"/><polygon points="698.0,144.0 712.8,152.5 728.0,160.2 735.7,162.6 729.4,176.2 695.0,164.7 699.6,150.2" filter="url(#sp15h)"/></g>
<polygon points="760.0,137.0 780.0,134.0 803.0,132.0 802.1,138.4 801.4,145.5 799.3,152.6 760.0,153.5" fill="#8cbd35"/>
<g transform="rotate(-25.0 690 95)"><polygon points="735.7,162.6 755.1,168.4 776.8,176.3 773.3,181.7 769.6,187.8 764.7,193.4 728.7,177.6" filter="url(#sp16m)"/><polygon points="735.7,162.6 755.1,168.4 776.8,176.3 773.3,181.7 769.6,187.8 764.7,193.4 728.7,177.6" filter="url(#sp16h)"/></g>
<polygon points="724.0,156.0 763.0,154.0 763.0,180.0 734.8,184.5 732.5,175.0 730.5,168.0 727.0,162.5 723.3,159.5" fill="#8cbd35"/>
<g transform="rotate(-25.0 690 95)"><polygon points="695.0,164.7 731.2,179.3 720.2,202.9 692.8,195.0 694.7,185.5 695.9,178.3 695.0,171.8 692.9,167.5" filter="url(#sp17m)"/><polygon points="695.0,164.7 731.2,179.3 720.2,202.9 692.8,195.0 694.7,185.5 695.9,178.3 695.0,171.8 692.9,167.5" filter="url(#sp17h)"/></g>
<polygon points="763.0,154.0 799.3,152.6 799.3,158.2 800.7,164.6 805.0,166.0 805.7,171.0 803.5,173.8 763.0,180.0" fill="#8cbd35"/>
<g transform="rotate(-25.0 690 95)"><polygon points="731.2,179.3 764.7,193.4 762.3,198.5 760.9,204.9 764.2,207.9 762.7,212.8 759.6,214.4 720.2,202.9" filter="url(#sp18m)"/><polygon points="731.2,179.3 764.7,193.4 762.3,198.5 760.9,204.9 764.2,207.9 762.7,212.8 759.6,214.4 720.2,202.9" filter="url(#sp18h)"/></g>
<polygon points="678.5,13.5 684.0,13.0 686.0,17.0 684.0,21.0 679.0,20.0" fill="#8cbd35"/>
<polygon points="660.4,12.0 666.0,12.0 666.0,17.7 660.4,17.7" fill="#8cbd35"/>
<g transform="rotate(-25.0 690 95)"><polygon points="698.3,7.3 703.3,9.6 700.9,14.8 695.8,12.4" filter="url(#sp19m)"/><polygon points="698.3,7.3 703.3,9.6 700.9,14.8 695.8,12.4" filter="url(#sp19h)"/></g>
<polygon points="688.0,19.0 695.0,19.0 700.0,25.0 700.0,35.0 692.0,35.0 690.0,25.0" fill="#8cbd35"/>
<g transform="rotate(-25.0 690 95)"><polygon points="720.3,25.3 726.7,28.2 728.6,35.8 724.4,44.8 717.2,41.5 719.6,31.6" filter="url(#sp20m)"/><polygon points="720.3,25.3 726.7,28.2 728.6,35.8 724.4,44.8 717.2,41.5 719.6,31.6" filter="url(#sp20h)"/></g>
<polyline points="623.6,88.6 653.7,87.7 675.0,87.3 700.0,85.7 709.6,84.7 766.0,81.5" fill="none" stroke="#161616" stroke-width="1.25" stroke-linejoin="round"/>
<polyline points="680.4,31.8 687.5,35.3 689.3,41.5 696.4,47.7 698.1,56.6 701.7,63.7 705.2,69.9 707.9,80.0 709.6,84.7" fill="none" stroke="#161616" stroke-width="1.25" stroke-linejoin="round"/>
<polyline points="687.5,35.3 709.0,34.0" fill="none" stroke="#161616" stroke-width="1.25" stroke-linejoin="round"/>
<polyline points="718.6,85.7 719.0,115.0 719.9,130.0 718.6,139.3 717.4,141.8" fill="none" stroke="#161616" stroke-width="1.25" stroke-linejoin="round"/>
<polyline points="643.1,113.2 650.8,112.8 651.6,114.5 657.6,108.5 661.8,110.2 673.7,114.5 678.9,115.3 682.3,117.0 688.2,117.0 697.6,116.2 719.0,115.0" fill="none" stroke="#161616" stroke-width="1.25" stroke-linejoin="round"/>
<polyline points="673.7,114.5 673.7,130.6" fill="none" stroke="#161616" stroke-width="1.25" stroke-linejoin="round"/>
<polyline points="688.2,117.0 690.8,122.1 694.2,129.8 694.2,135.7 688.2,139.1 687.4,140.9" fill="none" stroke="#161616" stroke-width="1.25" stroke-linejoin="round"/>
<polyline points="662.7,100.0 666.9,104.3 670.3,106.0 672.9,110.2 673.7,114.5" fill="none" stroke="#161616" stroke-width="1.25" stroke-linejoin="round"/>
<polyline points="630.7,70.0 634.2,73.5 640.4,73.5 642.2,76.2 644.9,79.7 652.0,83.3 653.7,87.7 656.2,87.7 656.2,91.0 658.7,91.0 658.7,94.4 661.2,94.4 661.2,97.8 663.7,97.8 663.7,101.1 666.2,101.1 666.2,104.5 668.7,104.5 668.7,107.8 671.2,107.8 671.2,111.2 673.7,111.2 673.7,114.5" fill="none" stroke="#161616" stroke-width="1.25" stroke-linejoin="round"/>
<polyline points="721.1,143.7 723.6,139.3 739.8,138.1 760.0,136.5 780.0,133.8 803.0,132.0" fill="none" stroke="#161616" stroke-width="1.25" stroke-linejoin="round"/>
<polyline points="717.4,141.8 713.0,142.4 710.6,146.1 709.3,149.9" fill="none" stroke="#161616" stroke-width="1.25" stroke-linejoin="round"/>
<polyline points="717.4,141.8 721.1,143.7 727.3,150.5 726.0,154.2 723.6,157.3" fill="none" stroke="#161616" stroke-width="1.25" stroke-linejoin="round"/>
<polyline points="726.0,154.8 732.3,156.1 740.0,156.1 763.0,154.0 799.3,152.6" fill="none" stroke="#161616" stroke-width="1.25" stroke-linejoin="round"/>
<polyline points="763.0,154.0 763.0,180.0" fill="none" stroke="#161616" stroke-width="1.25" stroke-linejoin="round"/>
<polyline points="582.0,11.3 586.3,11.3 591.2,14.2 594.8,15.6 598.3,17.7" fill="none" stroke="#161616" stroke-width="1.25" stroke-linejoin="round"/>
<polyline points="592.0,-3.0 592.7,2.8 596.2,7.8 598.3,12.8 599.0,17.7" fill="none" stroke="#161616" stroke-width="1.25" stroke-linejoin="round"/>
<polyline points="603.3,-3.0 604.7,4.3 605.4,9.9 603.3,12.0 601.9,16.3" fill="none" stroke="#161616" stroke-width="1.25" stroke-linejoin="round"/>
<polyline points="606.8,5.0 616.0,4.3 616.8,10.6 616.0,14.2 614.6,18.4" fill="none" stroke="#161616" stroke-width="1.25" stroke-linejoin="round"/>
<polyline points="617.5,-3.0 619.0,3.5 619.6,9.2 619.0,12.8 620.3,13.5 625.0,12.8 632.0,11.3" fill="none" stroke="#161616" stroke-width="1.25" stroke-linejoin="round"/>
<polyline points="600.5,18.4 614.6,19.1" fill="none" stroke="#161616" stroke-width="1.25" stroke-linejoin="round"/>
<polyline points="599.8,21.3 607.6,28.4 616.0,27.7 619.0,27.0" fill="none" stroke="#161616" stroke-width="1.25" stroke-linejoin="round"/>
<polyline points="599.0,23.4 600.5,29.8 604.7,36.2 607.6,40.0" fill="none" stroke="#161616" stroke-width="1.25" stroke-linejoin="round"/>
<polyline points="604.7,36.9 613.2,36.9 619.0,36.2 625.0,34.8" fill="none" stroke="#161616" stroke-width="1.25" stroke-linejoin="round"/>
<polyline points="619.0,12.8 619.0,28.4 621.0,35.5 621.7,40.0" fill="none" stroke="#161616" stroke-width="1.25" stroke-linejoin="round"/>
<polyline points="629.9,-3.0 632.0,4.3 631.3,11.3 633.4,14.2 634.9,19.9 634.1,28.4 625.6,30.5 620.7,36.2" fill="none" stroke="#161616" stroke-width="1.25" stroke-linejoin="round"/>
<polyline points="634.9,19.9 647.6,30.5 650.5,36.9 653.9,41.5 656.5,44.2" fill="none" stroke="#161616" stroke-width="1.25" stroke-linejoin="round"/>
<polyline points="647.6,30.5 634.9,38.3 632.7,40.0" fill="none" stroke="#161616" stroke-width="1.25" stroke-linejoin="round"/>
<polyline points="632.0,4.3 642.0,5.0 650.5,2.8 654.0,-3.0" fill="none" stroke="#161616" stroke-width="1.25" stroke-linejoin="round"/>
<polyline points="633.4,14.2 642.0,9.2 649.0,7.1 654.7,5.7 654.7,-3.0" fill="none" stroke="#161616" stroke-width="1.25" stroke-linejoin="round"/>
<polyline points="654.7,5.7 650.5,12.8 646.2,19.9 641.2,25.5" fill="none" stroke="#161616" stroke-width="1.25" stroke-linejoin="round"/>
<polyline points="654.7,5.7 660.4,8.5 664.6,7.1 666.0,-3.0" fill="none" stroke="#161616" stroke-width="1.25" stroke-linejoin="round"/>
<polyline points="664.6,7.1 666.0,14.2 671.7,17.0 675.0,19.9" fill="none" stroke="#161616" stroke-width="1.25" stroke-linejoin="round"/>
<polyline points="647.6,30.5 654.7,25.5 664.6,24.1 668.9,22.7 675.0,25.5" fill="none" stroke="#161616" stroke-width="1.25" stroke-linejoin="round"/>
<polyline points="665.0,12.8 669.3,14.9 672.8,17.7 674.2,21.3 676.3,23.4 675.6,27.0 679.2,28.4 681.3,31.9 686.3,34.8" fill="none" stroke="#161616" stroke-width="1.25" stroke-linejoin="round"/>
<polyline points="681.3,31.9 677.0,36.9 674.2,40.0 671.6,45.1 667.1,47.7 663.6,53.0 658.3,55.7 650.3,57.5 646.8,54.8 645.0,50.4" fill="none" stroke="#161616" stroke-width="1.25" stroke-linejoin="round"/>
<polyline points="656.5,44.2 645.0,48.6" fill="none" stroke="#161616" stroke-width="1.25" stroke-linejoin="round"/>
<polyline points="654.6,43.4 662.0,41.0 667.0,34.7 673.2,28.5 674.4,26.0" fill="none" stroke="#161616" stroke-width="1.25" stroke-linejoin="round"/>
<polyline points="698.1,56.6 684.0,57.5 683.1,60.1 676.0,60.6 674.2,62.8 668.9,65.4 659.2,69.0 658.3,72.5 655.6,80.0 652.0,83.3" fill="none" stroke="#161616" stroke-width="1.25" stroke-linejoin="round"/>
<polyline points="668.9,65.4 670.7,69.0 670.7,87.0" fill="none" stroke="#161616" stroke-width="1.25" stroke-linejoin="round"/>
<polyline points="604.2,35.0 604.9,37.8 621.2,36.4" fill="none" stroke="#161616" stroke-width="1.25" stroke-linejoin="round"/>
<polyline points="603.5,38.5 604.2,43.5 600.6,46.3" fill="none" stroke="#161616" stroke-width="1.25" stroke-linejoin="round"/>
<polyline points="604.2,43.5 610.6,47.8 615.5,51.3 618.4,54.1" fill="none" stroke="#161616" stroke-width="1.25" stroke-linejoin="round"/>
<polyline points="621.2,35.0 621.9,42.1 623.3,45.6 627.6,46.3 627.6,52.0 619.8,52.7 617.0,54.1" fill="none" stroke="#161616" stroke-width="1.25" stroke-linejoin="round"/>
<polyline points="627.6,46.3 632.6,40.7 641.0,35.0" fill="none" stroke="#161616" stroke-width="1.25" stroke-linejoin="round"/>
<polyline points="627.6,52.0 634.0,57.7 639.6,62.0 643.2,66.2 642.5,71.9 641.0,75.0" fill="none" stroke="#161616" stroke-width="1.25" stroke-linejoin="round"/>
<polyline points="634.0,57.7 639.6,53.4 644.6,49.9 650.0,46.3" fill="none" stroke="#161616" stroke-width="1.25" stroke-linejoin="round"/>
<polyline points="644.6,49.9 646.7,54.9 650.0,57.0" fill="none" stroke="#161616" stroke-width="1.25" stroke-linejoin="round"/>
<polyline points="617.0,54.1 621.2,58.4 624.0,62.0 626.9,65.5 631.0,69.8 635.4,73.3" fill="none" stroke="#161616" stroke-width="1.25" stroke-linejoin="round"/>
<polyline points="607.0,57.0 613.4,55.6" fill="none" stroke="#161616" stroke-width="1.25" stroke-linejoin="round"/>
<polygon points="599.5,29 602,30 604.5,33.5 603,34.5 600,32" fill="#fff" stroke="#1a1a1a" stroke-width="0.8"/>
<polygon points="595.6,17.6 597.6,18.2 597.8,20.6 596,20" fill="#fff"/>
</g>
<polygon points="570.5,-3.0 671.0,-3.0 670.0,0.0 795.0,102.7 796.0,106.3 801.2,113.4 803.8,120.5 810.0,124.9 805.6,130.2 802.8,133.0 802.1,138.4 801.4,145.5 799.3,152.6 799.3,158.2 800.7,164.6 805.0,166.0 805.7,171.0 803.5,173.8 734.8,184.5 734.0,181.0 732.5,175.0 730.5,168.0 727.0,162.5 723.3,159.5 718.3,156.2 713.3,153.8 709.8,151.3 709.0,148.8 707.0,149.1 705.5,150.6 702.0,150.2 699.9,148.4 700.6,145.2 697.7,142.0 692.5,142.6 687.4,140.5 682.3,137.4 678.0,134.9 673.7,131.1 667.8,129.8 659.3,128.9 650.8,129.4 646.5,128.1 643.1,124.7 642.3,121.3 643.1,117.0 642.3,112.8 641.3,109.0 636.0,106.3 636.0,101.9 633.3,99.2 626.3,93.0 623.6,88.6 619.2,83.3 614.7,78.0 610.3,74.4 609.4,70.0 608.4,69.0 607.7,63.4 609.0,64.5 612.0,62.0 613.4,57.0 612.0,55.5 607.0,54.9 604.2,52.7 599.9,49.2 597.1,43.5 595.7,39.3 594.3,35.0 594.8,31.2 594.8,27.0 592.0,25.5 588.4,24.1 585.6,22.7 582.4,22.7 581.7,20.6 583.0,16.3 583.0,13.5 581.0,12.0 580.0,9.2 577.0,6.4 573.5,2.8 571.0,0.0" fill="none" stroke="#1a1a1a" stroke-width="1.8" stroke-linejoin="round"/>
<polygon points="645.4,138.5 648.0,137.8 651.0,139.0 653.7,140.5 652.0,142.8 648.0,143.0 645.5,141.0" fill="#fff" stroke="#fff" stroke-width="3" stroke-linejoin="round"/>
<polygon points="653.7,140.5 657.0,139.8 661.0,141.0 662.4,143.5 659.0,146.5 655.0,147.4 653.0,145.0 652.0,142.8" fill="#fff" stroke="#fff" stroke-width="3" stroke-linejoin="round"/>
<polygon points="661.5,140.5 665.0,139.0 669.0,138.8 673.0,139.5 673.2,142.5 669.0,144.0 665.0,144.6 662.4,143.5" fill="#fff" stroke="#fff" stroke-width="3" stroke-linejoin="round"/>
<polygon points="673.7,140.6 676.0,140.2 678.5,140.8 678.3,142.8 675.5,143.1 673.7,142.6" fill="#fff" stroke="#fff" stroke-width="3" stroke-linejoin="round"/>
<polygon points="695.3,156.6 698.5,155.6 702.5,157.6 706.5,160.5 706.8,163.4 703.5,164.0 700.0,161.8 696.0,159.2" fill="#fff" stroke="#fff" stroke-width="3" stroke-linejoin="round"/>
<polygon points="696.0,170.0 699.0,169.3 703.0,174.0 706.6,178.4 705.6,180.4 702.0,179.0 698.2,174.4 695.6,171.6" fill="#fff" stroke="#fff" stroke-width="3" stroke-linejoin="round"/>
<polygon points="670.3,164.5 673.0,162.4 676.5,162.8 678.0,165.0 676.5,167.6 673.0,168.0 670.5,166.8" fill="#fff" stroke="#fff" stroke-width="3" stroke-linejoin="round"/>
<polyline points="705.5,159.6 706.2,150.6" fill="none" stroke="#1a1a1a" stroke-width="1.1"/>
<polyline points="705.5,159.6 712.6,154.1" fill="none" stroke="#1a1a1a" stroke-width="1.1"/>
<polygon points="645.4,138.5 648.0,137.8 651.0,139.0 653.7,140.5 652.0,142.8 648.0,143.0 645.5,141.0" fill="none" stroke="#1a1a1a" stroke-width="1.2" stroke-linejoin="round"/>
<polygon points="655.0,141.8 656.8,141.4 659.0,142.0 659.8,143.4 657.9,145.1 655.7,145.6 654.6,144.2 654.1,143.0" fill="#e25a17"/>
<polygon points="653.7,140.5 657.0,139.8 661.0,141.0 662.4,143.5 659.0,146.5 655.0,147.4 653.0,145.0 652.0,142.8" fill="none" stroke="#1a1a1a" stroke-width="1.2" stroke-linejoin="round"/>
<polygon points="664.1,141.0 666.0,140.1 668.2,140.0 670.4,140.4 670.5,142.1 668.2,142.9 666.0,143.2 664.6,142.6" fill="#e25a17"/>
<polygon points="661.5,140.5 665.0,139.0 669.0,138.8 673.0,139.5 673.2,142.5 669.0,144.0 665.0,144.6 662.4,143.5" fill="none" stroke="#1a1a1a" stroke-width="1.2" stroke-linejoin="round"/>
<polygon points="673.7,140.6 676.0,140.2 678.5,140.8 678.3,142.8 675.5,143.1 673.7,142.6" fill="none" stroke="#1a1a1a" stroke-width="1.2" stroke-linejoin="round"/>
<polygon points="697.6,157.9 699.6,157.3 702.0,158.5 704.4,160.2 704.5,162.0 702.6,162.3 700.5,161.0 698.1,159.5" fill="#e25a17"/>
<polygon points="695.3,156.6 698.5,155.6 702.5,157.6 706.5,160.5 706.8,163.4 703.5,164.0 700.0,161.8 696.0,159.2" fill="none" stroke="#1a1a1a" stroke-width="1.2" stroke-linejoin="round"/>
<polygon points="698.1,172.1 699.8,171.7 702.0,174.3 704.0,176.7 703.4,177.8 701.4,177.0 699.3,174.5 697.9,173.0" fill="#e25a17"/>
<polygon points="696.0,170.0 699.0,169.3 703.0,174.0 706.6,178.4 705.6,180.4 702.0,179.0 698.2,174.4 695.6,171.6" fill="none" stroke="#1a1a1a" stroke-width="1.2" stroke-linejoin="round"/>
<polygon points="672.7,165.0 673.6,164.3 674.9,164.4 675.4,165.2 674.9,166.1 673.6,166.2 672.8,165.8" fill="#e25a17"/>
<polygon points="670.3,164.5 673.0,162.4 676.5,162.8 678.0,165.0 676.5,167.6 673.0,168.0 670.5,166.8" fill="none" stroke="#1a1a1a" stroke-width="1.2" stroke-linejoin="round"/>
<circle cx="685.9" cy="157.8" r="1.7" fill="#fff" stroke="#1a1a1a" stroke-width="1.2"/>
<ellipse cx="582.4" cy="29.1" rx="3" ry="1.4" transform="rotate(40 582.4 29.1)" fill="#fff" stroke="#1a1a1a" stroke-width="1"/>
</svg>
<div class="t" style="left:493.00px;top:120.28px;font-size:10.3px;-webkit-text-stroke:0.45px #262626;color:#262626;">Wildfire Hazard</div>
<div class="r" style="left:493px;top:135px;width:12px;height:7px;background:#8ab84c"></div>
<div class="r" style="left:493px;top:148.6px;width:12px;height:7px;background:#dca13b"></div>
<div class="r" style="left:493px;top:162.3px;width:12px;height:7px;background:#bb2530"></div>
<div class="t" style="left:507.70px;top:133.32px;font-size:9.9px;color:#333;">Negligible and Low</div>
<div class="t" style="left:507.70px;top:147.40px;font-size:9.8px;color:#333;">Moderate</div>
<div class="t" style="left:507.70px;top:161.46px;font-size:9.85px;color:#333;">High and Extreme</div>
<div class="r" style="left:64px;top:221px;width:811px;height:45px;background:#1b6b95"></div>
<div class="t" style="left:71.00px;top:229.41px;font-size:14.05px;-webkit-text-stroke:0.6px #fff;color:#fff;">According to U.S. Census data, California has 13,680,100 housing units. Following is a breakdown of the percentage and</div>
<div class="t" style="left:71.00px;top:245.11px;font-size:14.05px;-webkit-text-stroke:0.6px #fff;color:#fff;letter-spacing:0.065px;">number of housing units broken out into the low, moderate, and high wildfire risk categories.</div>
<div class="r" style="left:64px;top:266px;width:271px;height:24px;background:#8eb94f"></div>
<div class="r" style="left:335px;top:266px;width:270px;height:24px;background:#dba13a"></div>
<div class="r" style="left:605px;top:266px;width:270px;height:24px;background:#ba262e"></div>
<div class="t" style="left:-0.10px;width:400px;text-align:center;top:272.51px;font-size:13.1px;color:#fff;">Negligible and Low</div>
<div class="t" style="left:267.50px;width:400px;text-align:center;top:272.34px;font-size:13.3px;color:#fff;">Moderate</div>
<div class="t" style="left:537.70px;width:400px;text-align:center;top:272.51px;font-size:13.1px;color:#fff;">High and Extreme</div>
<div class="r" style="left:64px;top:290px;width:2px;height:50px;background:#a3a3a3"></div>
<div class="r" style="left:873px;top:290px;width:2px;height:50px;background:#a3a3a3"></div>
<div class="r" style="left:199px;top:290px;width:1px;height:50px;background:#8f8f8f"></div>
<div class="r" style="left:334px;top:290px;width:1px;height:50px;background:#8f8f8f"></div>
<div class="r" style="left:470px;top:290px;width:1px;height:50px;background:#8f8f8f"></div>
<div class="r" style="left:605px;top:290px;width:1px;height:50px;background:#8f8f8f"></div>
<div class="r" style="left:740px;top:290px;width:1px;height:50px;background:#8f8f8f"></div>
<div class="r" style="left:64px;top:315px;width:811px;height:1px;background:#8f8f8f"></div>
<div class="r" style="left:64px;top:339px;width:811px;height:1px;background:#8f8f8f"></div>
<div class="t" style="left:70.50px;top:296.83px;font-size:13.2px;-webkit-text-stroke:0.45px #474747;color:#474747;">Percentage</div>
<div class="t" style="left:70.50px;top:322.15px;font-size:12.7px;transform:scaleY(1.1);transform-origin:0 10.75px;-webkit-text-stroke:0.2px #474747;color:#474747;">73</div>
<div class="t" style="left:205.80px;top:296.83px;font-size:13.2px;-webkit-text-stroke:0.45px #474747;color:#474747;">Number</div>
<div class="t" style="left:205.80px;top:322.15px;font-size:12.7px;transform:scaleY(1.1);transform-origin:0 10.75px;-webkit-text-stroke:0.2px #474747;color:#474747;">9,968,100</div>
<div class="t" style="left:341.20px;top:296.83px;font-size:13.2px;-webkit-text-stroke:0.45px #474747;color:#474747;">Percentage</div>
<div class="t" style="left:341.20px;top:322.15px;font-size:12.7px;transform:scaleY(1.1);transform-origin:0 10.75px;-webkit-text-stroke:0.2px #474747;color:#474747;">12</div>
<div class="t" style="left:476.20px;top:296.83px;font-size:13.2px;-webkit-text-stroke:0.45px #474747;color:#474747;">Number</div>
<div class="t" style="left:476.20px;top:322.15px;font-size:12.7px;transform:scaleY(1.1);transform-origin:0 10.75px;-webkit-text-stroke:0.2px #474747;color:#474747;">1,667,100</div>
<div class="t" style="left:611.20px;top:296.83px;font-size:13.2px;-webkit-text-stroke:0.45px #474747;color:#474747;">Percentage</div>
<div class="t" style="left:611.20px;top:322.15px;font-size:12.7px;transform:scaleY(1.1);transform-origin:0 10.75px;-webkit-text-stroke:0.2px #474747;color:#474747;">15</div>
<div class="t" style="left:746.20px;top:296.83px;font-size:13.2px;-webkit-text-stroke:0.45px #474747;color:#474747;">Number</div>
<div class="t" style="left:746.20px;top:322.15px;font-size:12.7px;transform:scaleY(1.1);transform-origin:0 10.75px;-webkit-text-stroke:0.2px #474747;color:#474747;">2,044,800</div>
<div class="r" style="left:64px;top:361px;width:395px;height:45px;background:#1b6b95"></div>
<div class="t" style="left:71.20px;top:370.06px;font-size:14.1px;-webkit-text-stroke:0.6px #fff;color:#fff;letter-spacing:0.045px;">Top five counties by number of housing units in high and</div>
<div class="t" style="left:71.20px;top:385.66px;font-size:14.1px;-webkit-text-stroke:0.6px #fff;color:#fff;">extreme wildfire risk category</div>
<div class="r" style="left:64px;top:406px;width:2px;height:148px;background:#a3a3a3"></div>
<div class="r" style="left:457px;top:406px;width:2px;height:148px;background:#a3a3a3"></div>
<div class="r" style="left:261.5px;top:406px;width:1px;height:147px;background:#8f8f8f"></div>
<div class="r" style="left:64px;top:430px;width:395px;height:1px;background:#8f8f8f"></div>
<div class="r" style="left:64px;top:455px;width:395px;height:1px;background:#8f8f8f"></div>
<div class="r" style="left:64px;top:479px;width:395px;height:1px;background:#8f8f8f"></div>
<div class="r" style="left:64px;top:503px;width:395px;height:1px;background:#8f8f8f"></div>
<div class="r" style="left:64px;top:528px;width:395px;height:1px;background:#8f8f8f"></div>
<div class="r" style="left:64px;top:552px;width:395px;height:2px;background:#8f8f8f"></div>
<div class="t" style="left:70.80px;top:411.83px;font-size:13.2px;-webkit-text-stroke:0.45px #474747;color:#474747;">County</div>
<div class="t" style="left:268.50px;top:411.83px;font-size:13.2px;-webkit-text-stroke:0.45px #474747;color:#474747;">Number of Homes</div>
<div class="t" style="left:70.80px;top:438.35px;font-size:12.7px;transform:scaleY(1.1);transform-origin:0 10.75px;-webkit-text-stroke:0.2px #474747;color:#474747;">Los Angeles</div>
<div class="t" style="left:268.50px;top:438.35px;font-size:12.7px;transform:scaleY(1.1);transform-origin:0 10.75px;-webkit-text-stroke:0.2px #474747;color:#474747;">441,300</div>
<div class="t" style="left:70.80px;top:462.70px;font-size:12.7px;transform:scaleY(1.1);transform-origin:0 10.75px;-webkit-text-stroke:0.2px #474747;color:#474747;">San Diego</div>
<div class="t" style="left:268.50px;top:462.70px;font-size:12.7px;transform:scaleY(1.1);transform-origin:0 10.75px;-webkit-text-stroke:0.2px #474747;color:#474747;">250,400</div>
<div class="t" style="left:70.80px;top:487.05px;font-size:12.7px;transform:scaleY(1.1);transform-origin:0 10.75px;-webkit-text-stroke:0.2px #474747;color:#474747;">San Bernardino</div>
<div class="t" style="left:268.50px;top:487.05px;font-size:12.7px;transform:scaleY(1.1);transform-origin:0 10.75px;-webkit-text-stroke:0.2px #474747;color:#474747;">111,400</div>
<div class="t" style="left:70.80px;top:511.40px;font-size:12.7px;transform:scaleY(1.1);transform-origin:0 10.75px;-webkit-text-stroke:0.2px #474747;color:#474747;">Ventura</div>
<div class="t" style="left:268.50px;top:511.40px;font-size:12.7px;transform:scaleY(1.1);transform-origin:0 10.75px;-webkit-text-stroke:0.2px #474747;color:#474747;">82,100</div>
<div class="t" style="left:70.80px;top:535.75px;font-size:12.7px;transform:scaleY(1.1);transform-origin:0 10.75px;-webkit-text-stroke:0.2px #474747;color:#474747;">Alameda</div>
<div class="t" style="left:268.50px;top:535.75px;font-size:12.7px;transform:scaleY(1.1);transform-origin:0 10.75px;-webkit-text-stroke:0.2px #474747;color:#474747;">76,300</div>
<div class="r" style="left:481px;top:361px;width:394px;height:45px;background:#1b6b95"></div>
<div class="t" style="left:488.20px;top:370.06px;font-size:14.1px;-webkit-text-stroke:0.6px #fff;color:#fff;letter-spacing:0.07px;">Top five counties by highest concentration of housing units</div>
<div class="t" style="left:488.20px;top:385.66px;font-size:14.1px;-webkit-text-stroke:0.6px #fff;color:#fff;">in high and extreme wildfire risk category</div>
<div class="r" style="left:481px;top:406px;width:2px;height:148px;background:#a3a3a3"></div>
<div class="r" style="left:873px;top:406px;width:2px;height:148px;background:#a3a3a3"></div>
<div class="r" style="left:677.5px;top:406px;width:1px;height:147px;background:#8f8f8f"></div>
<div class="r" style="left:481px;top:430px;width:394px;height:1px;background:#8f8f8f"></div>
<div class="r" style="left:481px;top:454px;width:394px;height:1px;background:#8f8f8f"></div>
<div class="r" style="left:481px;top:479px;width:394px;height:1px;background:#8f8f8f"></div>
<div class="r" style="left:481px;top:504px;width:394px;height:1px;background:#8f8f8f"></div>
<div class="r" style="left:481px;top:528px;width:394px;height:1px;background:#8f8f8f"></div>
<div class="r" style="left:481px;top:552px;width:394px;height:2px;background:#8f8f8f"></div>
<div class="t" style="left:487.00px;top:411.83px;font-size:13.2px;-webkit-text-stroke:0.45px #474747;color:#474747;">County</div>
<div class="t" style="left:683.70px;top:411.83px;font-size:13.2px;-webkit-text-stroke:0.45px #474747;color:#474747;">Percentage of Homes</div>
<div class="t" style="left:487.00px;top:438.75px;font-size:12.7px;transform:scaleY(1.1);transform-origin:0 10.75px;-webkit-text-stroke:0.2px #474747;color:#474747;">Alpine</div>
<div class="t" style="left:683.70px;top:438.75px;font-size:12.7px;transform:scaleY(1.1);transform-origin:0 10.75px;-webkit-text-stroke:0.2px #474747;color:#474747;">88</div>
<div class="t" style="left:487.00px;top:463.30px;font-size:12.7px;transform:scaleY(1.1);transform-origin:0 10.75px;-webkit-text-stroke:0.2px #474747;color:#474747;">Trinity</div>
<div class="t" style="left:683.70px;top:463.30px;font-size:12.7px;transform:scaleY(1.1);transform-origin:0 10.75px;-webkit-text-stroke:0.2px #474747;color:#474747;">81</div>
<div class="t" style="left:487.00px;top:487.85px;font-size:12.7px;transform:scaleY(1.1);transform-origin:0 10.75px;-webkit-text-stroke:0.2px #474747;color:#474747;">Mariposa</div>
<div class="t" style="left:683.70px;top:487.85px;font-size:12.7px;transform:scaleY(1.1);transform-origin:0 10.75px;-webkit-text-stroke:0.2px #474747;color:#474747;">81</div>
<div class="t" style="left:487.00px;top:512.40px;font-size:12.7px;transform:scaleY(1.1);transform-origin:0 10.75px;-webkit-text-stroke:0.2px #474747;color:#474747;">Tuolumne</div>
<div class="t" style="left:683.70px;top:512.40px;font-size:12.7px;transform:scaleY(1.1);transform-origin:0 10.75px;-webkit-text-stroke:0.2px #474747;color:#474747;">80</div>
<div class="t" style="left:487.00px;top:536.95px;font-size:12.7px;transform:scaleY(1.1);transform-origin:0 10.75px;-webkit-text-stroke:0.2px #474747;color:#474747;">Nevada</div>
<div class="t" style="left:683.70px;top:536.95px;font-size:12.7px;transform:scaleY(1.1);transform-origin:0 10.75px;-webkit-text-stroke:0.2px #474747;color:#474747;">75</div>
</body></html>
